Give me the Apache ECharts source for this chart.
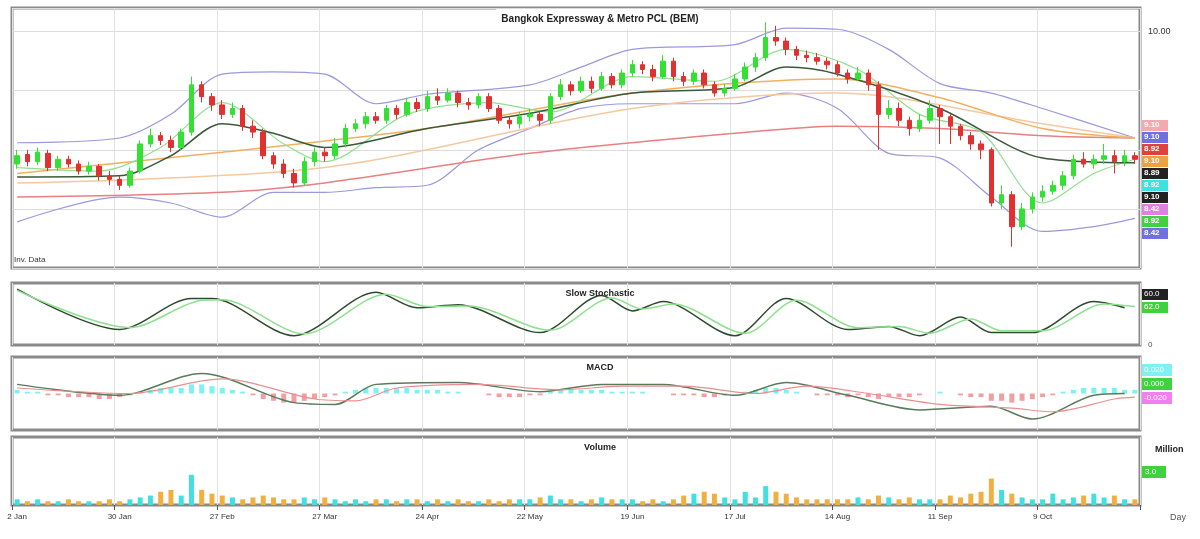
<!DOCTYPE html><html><head><meta charset="utf-8">
<script src="https://cdn.jsdelivr.net/npm/echarts@6/dist/echarts.min.js"></script>
<style>html,body{margin:0;padding:0;background:#fff}#c{width:1200px;height:539px}</style></head><body><div id="c"></div>
<script>
// candles: [open, close, low, high]
const candles = [
[8.88,8.95,8.84,9.00],[8.96,8.90,8.86,9.00],[8.90,8.98,8.87,9.02],[8.97,8.85,8.82,9.00],[8.85,8.92,8.82,8.95],
[8.92,8.88,8.85,8.95],[8.88,8.82,8.79,8.91],[8.82,8.86,8.79,8.90],[8.86,8.78,8.74,8.88],[8.78,8.75,8.70,8.82],
[8.75,8.70,8.66,8.78],[8.70,8.82,8.68,8.85],[8.82,9.05,8.80,9.08],[9.05,9.12,9.02,9.18],[9.12,9.08,9.04,9.15],
[9.08,9.02,8.98,9.12],[9.02,9.15,9.00,9.18],[9.15,9.55,9.12,9.62],[9.55,9.45,9.40,9.58],[9.45,9.38,9.33,9.48],
[9.38,9.30,9.26,9.42],[9.30,9.35,9.27,9.40],[9.35,9.20,9.16,9.38],[9.20,9.15,9.10,9.25],[9.15,8.95,8.92,9.18],
[8.95,8.88,8.84,8.98],[8.88,8.80,8.76,8.92],[8.80,8.72,8.68,8.84],[8.72,8.90,8.70,8.94],[8.90,8.98,8.86,9.02],
[8.98,8.95,8.90,9.02],[8.95,9.05,8.92,9.10],[9.05,9.18,9.02,9.22],[9.18,9.22,9.15,9.26],[9.22,9.28,9.18,9.32],
[9.28,9.25,9.22,9.32],[9.25,9.35,9.22,9.38],[9.35,9.30,9.26,9.38],[9.30,9.40,9.28,9.44],[9.40,9.35,9.32,9.44],
[9.35,9.45,9.32,9.50],[9.45,9.42,9.38,9.52],[9.42,9.48,9.40,9.52],[9.48,9.40,9.36,9.50],[9.40,9.38,9.34,9.44],
[9.38,9.45,9.35,9.48],[9.45,9.35,9.32,9.48],[9.35,9.25,9.22,9.38],[9.25,9.22,9.18,9.28],[9.22,9.28,9.18,9.32],
[9.28,9.30,9.24,9.35],[9.30,9.25,9.20,9.33],[9.25,9.45,9.22,9.48],[9.45,9.55,9.42,9.60],[9.55,9.50,9.46,9.58],
[9.50,9.58,9.48,9.62],[9.58,9.52,9.48,9.62],[9.52,9.62,9.50,9.66],[9.62,9.55,9.52,9.65],[9.55,9.65,9.52,9.68],
[9.65,9.72,9.62,9.76],[9.72,9.68,9.64,9.75],[9.68,9.62,9.58,9.72],[9.62,9.75,9.60,9.80],[9.75,9.62,9.58,9.78],
[9.62,9.58,9.54,9.66],[9.58,9.65,9.55,9.68],[9.65,9.55,9.52,9.68],[9.55,9.48,9.45,9.58],[9.48,9.52,9.45,9.56],
[9.52,9.60,9.50,9.64],[9.60,9.70,9.58,9.74],[9.70,9.78,9.66,9.82],[9.78,9.95,9.75,10.08],[9.95,9.92,9.88,10.05],
[9.92,9.85,9.80,9.95],[9.85,9.80,9.76,9.88],[9.80,9.78,9.74,9.84],[9.78,9.75,9.72,9.82],[9.75,9.72,9.68,9.78],
[9.72,9.65,9.62,9.75],[9.65,9.60,9.56,9.68],[9.60,9.65,9.58,9.70],[9.65,9.55,9.50,9.68],[9.55,9.30,9.00,9.58],
[9.30,9.35,9.26,9.42],[9.35,9.25,9.20,9.40],[9.25,9.18,9.12,9.28],[9.18,9.25,9.15,9.30],[9.25,9.35,9.22,9.42],
[9.35,9.28,9.05,9.38],[9.28,9.20,9.05,9.30],[9.20,9.12,9.08,9.22],[9.12,9.05,9.00,9.15],[9.05,9.00,8.92,9.08],
[9.00,8.55,8.52,9.02],[8.55,8.62,8.50,8.70],[8.62,8.35,8.18,8.65],[8.35,8.50,8.32,8.55],[8.50,8.60,8.46,8.64],
[8.60,8.65,8.56,8.70],[8.65,8.70,8.62,8.74],[8.70,8.78,8.66,8.82],[8.78,8.92,8.75,8.96],[8.92,8.88,8.85,8.98],
[8.88,8.92,8.84,8.96],[8.92,8.95,8.88,9.05],[8.95,8.90,8.80,9.00],[8.90,8.95,8.86,9.00],[8.95,8.92,8.88,8.98]];
const volume = [3,2,3,2,2,3,2,2,2,3, 2,3,4,5,7,8,5,16,8,6, 5,4,3,4,5,4,3,3,4,3, 4,3,2,3,2,3,3,2,3,3,
 2,3,2,3,2,2,3,2,3,3, 3,4,5,3,3,2,3,4,3,3, 3,2,3,2,3,5,6,7,6,4, 3,7,4,10,7,6,4,3,3,3,
 3,3,4,3,5,4,3,4,3,3, 3,5,4,6,7,14,8,6,4,3, 3,6,3,4,5,6,4,5,3,3];
const macdHist = [.02,.01,.01,-.01,-.01,-.02,-.02,-.02,-.03,-.03, -.02,-.01,.01,.02,.03,.03,.03,.05,.05,.04,
 .03,.02,.01,-.01,-.03,-.04,-.05,-.05,-.04,-.03, -.02,-.01,.01,.02,.03,.03,.03,.03,.03,.02,
 .02,.02,.01,.01,0,0,-.01,-.02,-.02,-.02, -.01,-.01,.01,.02,.02,.02,.02,.02,.01,.01,
 .01,.01,0,0,-.01,-.01,-.01,-.02,-.02,-.01, 0,.01,.02,.03,.03,.02,.01,0,-.01,-.01,
 -.01,-.02,-.01,-.02,-.03,-.02,-.02,-.02,-.01,0, .01,0,-.01,-.02,-.02,-.04,-.04,-.05,-.04,-.03,
 -.02,-.01,.01,.02,.03,.03,.03,.03,.02,.02];
// sparse lines: [candleIndex, value]
const bbUpper = [[0,9.06],[10,9.10],[15,9.30],[20,9.64],[25,9.66],[30,9.64],[35,9.39],[40,9.47],[50,9.55],[55,9.70],[60,9.85],[70,9.89],[75,10.03],[80,10.02],[85,9.85],[90,9.56],[95,9.48],[100,9.35],[109,9.10]];
const bbLower = [[0,8.39],[10,8.60],[15,8.55],[20,8.43],[25,8.64],[30,8.64],[35,8.68],[40,8.70],[45,9.00],[50,9.18],[55,9.35],[60,9.39],[70,9.39],[75,9.48],[80,9.35],[85,8.97],[90,8.93],[95,8.60],[100,8.31],[105,8.35],[109,8.42]];
const ma20 = [[0,8.77],[10,8.78],[15,8.95],[20,9.22],[25,9.14],[30,9.02],[40,9.18],[50,9.31],[60,9.48],[70,9.53],[75,9.70],[80,9.64],[90,9.35],[100,8.93],[109,8.89]];
const ma10 = [[0,8.85],[8,8.82],[14,9.02],[20,9.40],[26,9.05],[30,8.90],[38,9.30],[46,9.40],[52,9.32],[60,9.62],[68,9.58],[75,9.85],[82,9.68],[88,9.30],[94,9.15],[100,8.55],[105,8.80],[109,8.92]];
const ma50 = [[0,8.80],[20,8.98],[40,9.18],[60,9.48],[80,9.60],[90,9.44],[100,9.18],[109,9.10]];
const ma100 = [[0,8.72],[30,8.85],[60,9.35],[80,9.48],[100,9.22],[109,9.10]];
const ma200 = [[0,8.60],[20,8.64],[30,8.72],[50,8.97],[70,9.14],[80,9.20],[90,9.18],[100,9.12],[109,9.10]];
const stochK = [[0,90],[10,25],[17,75],[19,75],[27,15],[35,85],[39,60],[43,65],[51,20],[57,80],[60,55],[63,70],[70,15],[75,75],[81,25],[85,30],[88,15],[92,45],[95,20],[99,20],[105,70],[108,60]];
const stochD = [[0,88],[11,28],[18,72],[20,73],[28,18],[36,82],[40,62],[44,63],[52,24],[58,76],[61,58],[64,66],[71,19],[76,72],[82,28],[86,30],[89,19],[93,42],[96,23],[100,23],[106,66],[109,62]];
const macdLine = [[0,.05],[10,-.01],[18,.11],[27,-.05],[31,-.06],[35,.05],[43,.06],[51,.01],[57,.05],[63,.05],[70,-.01],[75,.06],[81,-.01],[88,-.09],[95,-.07],[99,-.14],[105,-.01],[108,0]];
const macdSignal = [[0,.03],[11,0],[20,.08],[29,-.03],[33,-.04],[37,.03],[45,.05],[53,.02],[59,.04],[65,.04],[72,0],[77,.04],[83,0],[90,-.06],[97,-.08],[101,-.10],[107,-.03],[109,-.02]];
const priceTicks = [10.00];
const title = 'Bangkok Expressway & Metro PCL (BEM)';

const months=['Jan','Feb','Mar','Apr','May','Jun','Jul','Aug','Sep','Oct','Nov','Dec'];
const dates=[];{let d=new Date(2019,0,2);while(dates.length<candles.length){if(d.getDay()%6){dates.push(d.getDate()+' '+months[d.getMonth()]);}d.setDate(d.getDate()+2);}}

const chart=echarts.init(document.getElementById('c'));
const L=12,R=60;
const grids=[{left:L,right:R,top:8,height:260},{left:L,right:R,top:283,height:62},{left:L,right:R,top:357,height:73},{left:L,right:R,top:437,height:68}]
 .map(g=>Object.assign(g,{show:true,borderColor:'#8a8a8a',borderWidth:3,backgroundColor:'#fff'}));
const xAxes=grids.map((g,i)=>({type:'category',gridIndex:i,data:dates,boundaryGap:true,
 axisLine:{show:false},axisTick:{show:i===3,interval:9,lineStyle:{color:'#555'}},
 axisLabel:{show:i===3,interval:9,fontSize:8,color:'#333',margin:8},
 splitLine:{show:true,interval:9,lineStyle:{color:'#e2e2e2'}}}));
const sl={show:true,lineStyle:{color:'#dcdcdc'}};
const yAxes=[
 {gridIndex:0,position:'right',min:8.0,max:10.2,interval:0.5,splitLine:sl,axisLabel:{fontSize:9,color:'#333',formatter:v=>priceTicks.includes(+(+v).toFixed(2))?(+v).toFixed(2):''},axisLine:{show:false}},
 {gridIndex:1,position:'right',min:0,max:100,interval:20,splitLine:{show:false},axisLabel:{fontSize:8,formatter:v=>v===0?'0':''}},
 {gridIndex:2,position:'right',min:-0.2,max:0.2,splitLine:{show:false},axisLabel:{show:false}},
 {gridIndex:3,position:'right',min:0,max:36,splitLine:{show:false},axisLabel:{show:false}}];
const line=(name,data,color,xi,w,extra)=>Object.assign({name,type:'line',data,xAxisIndex:xi,yAxisIndex:xi,symbol:'none',smooth:0.3,lineStyle:{color,width:w||1},z:2},extra||{});
const up='#33e033',dn='#e03030';
chart.setOption({animation:false,
 title:[{text:title,left:'center',top:9,textStyle:{fontSize:10,fontWeight:'bold',color:'#222'},backgroundColor:'#fff'},
  {text:'Slow Stochastic',left:'center',top:284,textStyle:{fontSize:9,fontWeight:'bold',color:'#222'}},
  {text:'MACD',left:'center',top:358,textStyle:{fontSize:9,fontWeight:'bold',color:'#222'}},
  {text:'Volume',left:'center',top:438,textStyle:{fontSize:9,fontWeight:'bold',color:'#222'}},
  {text:'Million',left:1150,top:440,textStyle:{fontSize:9,fontWeight:'bold',color:'#222'}}],
 grid:grids,xAxis:xAxes,yAxis:yAxes,
 series:[
  line('BB Upper',bbUpper,'#9999dd',0,1.2),
  line('BB Lower',bbLower,'#9999dd',0,1.2),
  line('MA200',ma200,'#e88080',0,1.5),
  line('MA100',ma100,'#f5c8a0',0,1.5),
  line('MA50',ma50,'#f0b060',0,1.5),
  line('MA10',ma10,'#90e090',0,1.2),
  line('MA20',ma20,'#3a5a3a',0,1.5),
  {type:'candlestick',data:candles,xAxisIndex:0,yAxisIndex:0,barWidth:5,z:3,
   itemStyle:{color:up,color0:dn,borderColor:up,borderColor0:dn}},
  line('%K',stochK,'#2e4a2e',1,1.5),
  line('%D',stochD,'#8fe08f',1,1.5),
  {type:'bar',data:macdHist.map(v=>({value:v,itemStyle:{color:v>=0?'#80f0f0':'#f0a0a0'}})),xAxisIndex:2,yAxisIndex:2,barWidth:5},
  line('MACD',macdLine,'#5a7a5a',2,1.5),
  line('Signal',macdSignal,'#e89090',2,1.2),
  {type:'bar',data:volume.map((v,i)=>({value:v,itemStyle:{color:candles[i][1]>=candles[i][0]?'#40e0e0':'#f0b040'}})),xAxisIndex:3,yAxisIndex:3,barWidth:5}
 ]});
const boxes=[['#f4a8b0',ma200],['#7070e0',bbUpper],['#e04040',candles.map((c,i)=>[i,c[1]])],['#f0a040',ma50],['#222',ma20],['#40e0e0',ma10],['#222',ma100],['#e080e0',bbLower],['#40d040',ma10],['#7070e0',bbLower]];
const g=[{type:'text',left:14,top:256,style:{text:'Inv. Data',fontSize:8,fill:'#333'}},{type:'text',left:1170,top:513,style:{text:'Day',fontSize:9,fill:'#555'}}];
boxes.forEach((b,k)=>{const last=b[1][b[1].length-1][1];const y=120+k*12;
 g.push({type:'rect',shape:{x:1142,y:y,width:26,height:11},style:{fill:b[0]}});
 g.push({type:'text',x:1144,y:y+1,style:{text:last.toFixed(2),fontSize:8,fill:'#fff',fontWeight:'bold'}});});
[['#222',stochK,289],['#40d040',stochD,302]].forEach(b=>{const v=b[1][b[1].length-1][1];
 g.push({type:'rect',shape:{x:1142,y:b[2],width:26,height:11},style:{fill:b[0]}});
 g.push({type:'text',x:1144,y:b[2]+1,style:{text:v.toFixed(1),fontSize:8,fill:'#fff'}});});
[['#80f0f0',macdHist,364],['#40d040',macdLine,378],['#f080f0',macdSignal,392]].forEach(b=>{const a=b[1];const l=a[a.length-1];const v=Array.isArray(l)?l[1]:l;
 g.push({type:'rect',shape:{x:1142,y:b[2],width:30,height:12},style:{fill:b[0]}});
 g.push({type:'text',x:1144,y:b[2]+2,style:{text:v.toFixed(3),fontSize:8,fill:'#fff'}});});
g.push({type:'rect',shape:{x:1142,y:466,width:24,height:12},style:{fill:'#40d040'}});
g.push({type:'text',x:1145,y:468,style:{text:volume[volume.length-1].toFixed(1),fontSize:8,fill:'#fff'}});
chart.setOption({graphic:g});
</script></body></html>
